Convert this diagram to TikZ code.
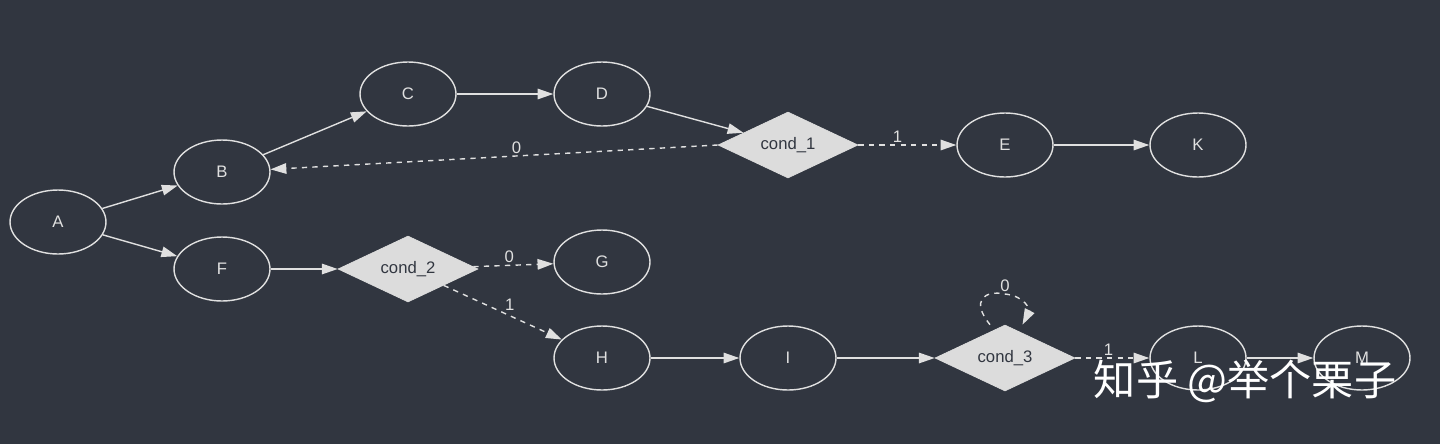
\documentclass[tikz,border=0pt]{standalone}
\usepackage{fontspec}
\setmainfont{Liberation Sans}
\newfontfamily\cjk{Noto Sans CJK SC}
\usetikzlibrary{shapes.geometric,arrows.meta}
\definecolor{bg}{HTML}{313640}
\definecolor{ln}{HTML}{E0E0E0}
\definecolor{dm}{HTML}{DCDCDC}
\begin{document}
\begin{tikzpicture}[x=0.02cm,y=-0.02cm,
  el/.style={ellipse,draw=ln,line width=0.8pt,minimum width=1.92cm,minimum height=1.28cm,inner sep=0pt,text=ln,font=\fontsize{9.5}{10}\selectfont},
  dia/.style={diamond,fill=dm,draw=dm,minimum width=2.8cm,minimum height=1.32cm,aspect=2.1,inner sep=0pt,text=bg,font=\fontsize{9.5}{10}\selectfont},
  ed/.style={draw=ln,line width=0.8pt,-{Triangle[length=9pt,width=6pt]}},
  dd/.style={ed,dashed},
  lb/.style={text=ln,font=\fontsize{9.5}{10}\selectfont,inner sep=1pt}]
\fill[bg] (0,0) rectangle (1440,444);
\useasboundingbox (0,0) rectangle (1440,444);
\node[el] (A) at (58,222) {A};
\node[el] (B) at (222,172) {B};
\node[el] (C) at (408,94) {C};
\node[el] (D) at (602,94) {D};
\node[dia] (c1) at (788,145) {cond\_1};
\node[el] (E) at (1005,145) {E};
\node[el] (K) at (1198,145) {K};
\node[el] (F) at (222,269) {F};
\node[dia] (c2) at (408,269) {cond\_2};
\node[el] (G) at (602,262) {G};
\node[el] (H) at (602,358) {H};
\node[el] (I) at (788,358) {I};
\node[dia] (c3) at (1005,358) {cond\_3};
\node[el] (L) at (1198,358) {L};
\node[el] (M) at (1362,358) {M};
\draw[ed] (A) -- (B);
\draw[ed] (A) -- (F);
\draw[ed] (B) -- (C);
\draw[ed] (C) -- (D);
\draw[ed] (D) -- (c1);
\draw[dd] (c1.west) -- node[lb,pos=0.45,above]{0} (B);
\draw[dd] (c1.east) -- node[lb,pos=0.4,above]{1} (E);
\draw[ed] (E) -- (K);
\draw[ed] (F) -- (c2.west);
\draw[dd] (c2) -- node[lb,pos=0.45,above]{0} (G);
\draw[dd] (c2) -- node[lb,pos=0.5,above right]{1} (H);
\draw[ed] (H) -- (I);
\draw[ed] (I) -- (c3.west);
\draw[dd] (c3.east) -- node[lb,pos=0.45,above]{1} (L);
\draw[ed] (L) -- (M);
\draw[dd] ([xshift=-0.3cm]c3.north) .. controls (970,300) and (985,290) .. (1005,294) node[lb,above]{0} .. controls (1025,296) and (1030,310) .. ([xshift=0.35cm]c3.north);
\node[text=white,font=\cjk\fontsize{24}{27}\selectfont] (wm) at (1245,381) {知乎 @举个栗子};
\end{tikzpicture}
\end{document}
